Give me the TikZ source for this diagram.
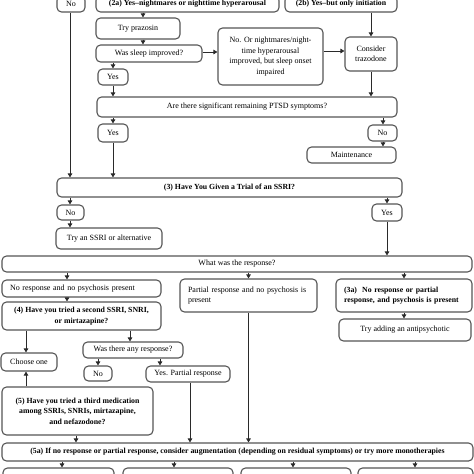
\documentclass[tikz,border=0pt]{standalone}
\usepackage{fontspec}
\setmainfont{Liberation Serif}
\usetikzlibrary{arrows.meta}
\definecolor{boxline}{HTML}{555555}
\definecolor{conn}{HTML}{2A2A2A}
\begin{document}
\begin{tikzpicture}[x=1pt,y=-1pt,
  box/.style={draw=boxline, line width=1.1pt, rounded corners=4.5pt, inner sep=0pt, align=center, font=\fontsize{8}{10.5}\selectfont},
  bbox/.style={box, font=\fontsize{7.8}{10.5}\selectfont\bfseries},
  lbox/.style={inner xsep=8pt, align=left},
  sz/.style 2 args={minimum width=#1pt, minimum height=#2pt},
  arr/.style={draw=conn, line width=0.9pt, -{Triangle[length=4pt,width=4.5pt]}},
]
\useasboundingbox (0,0) rectangle (474,474);
\clip (0,0) rectangle (474,474);
% helper x positions
\foreach \xx in {26,62,67,70,76,130,143,160,174,190,293,383,415}{\coordinate (c\xx) at (\xx,0);}
\coordinate (y51) at (0,51);
\coordinate (y52) at (0,52);
% nodes
\node[box, sz={28}{16}] (noTop) at (71,4) {No};
\node[bbox, sz={183}{16}] (b2a) at (187.5,4) {(2a) Yes--nightmares or nighttime hyperarousal};
\node[bbox, sz={112}{16}] (b2b) at (341,4) {(2b) Yes--but only initiation};
\node[box, sz={84}{21}] (prazosin) at (138,28.5) {Try prazosin};
\node[box, sz={106}{17}] (sleep) at (149,53.5) {Was sleep improved?};
\node[box, sz={105}{57}] (noOr) at (270.5,56.5) {No. Or nightmares/night-\\time hyperarousal\\improved, but sleep onset\\impaired};
\node[box, sz={52}{34}] (trazodone) at (371,54) {Consider\\trazodone};
\node[box, sz={30}{16}] (yes1) at (113,77) {Yes};
\node[box, sz={300}{20}] (remain) at (247,107) {Are there significant remaining PTSD symptoms?};
\node[box, sz={30}{18}] (yes2) at (113,133) {Yes};
\node[box, sz={29}{16}] (no2) at (382.5,133) {No};
\node[box, sz={89}{16}] (maint) at (351.5,155) {Maintenance};
\node[bbox, sz={345}{19}] (b3) at (229.5,187.5) {(3) Have You Given a Trial of an SSRI?};
\node[box, sz={27}{15}] (no3) at (70.5,212.5) {No};
\node[box, sz={30}{17}] (yes3) at (387,212.5) {Yes};
\node[box, sz={106}{21}] (ssri) at (109,238.5) {Try an SSRI or alternative};
\node[box, sz={470}{16}] (what) at (237,264) {What was the response?};
\node[box, lbox, text width=143pt, sz={159}{17}] (noresp) at (81.5,288.5) {No response and no psychosis present};
\node[box, lbox, text width=121pt, sz={137}{33}] (partial) at (248.5,295.5) {Partial response and no psychosis is\\present};
\node[bbox, lbox, text width=120pt, sz={136}{33}] (b3a) at (404,295.5) {(3a)\ \ No response or partial\\response, and psychosis is present};
\node[box, sz={132}{22}] (antipsy) at (405,330) {Try adding an antipsychotic};
\node[bbox, sz={159}{28}] (b4) at (81.5,316) {(4) Have you tried a second SSRI, SNRI,\\or mirtazapine?};
\node[box, sz={100}{16}] (anyresp) at (133,350) {Was there any response?};
\node[box, sz={56}{18}] (choose) at (29,362) {Choose one};
\node[box, sz={28}{15}] (no5) at (98,373.5) {No};
\node[box, sz={84}{16}] (yespart) at (188,374) {Yes. Partial response};
\node[bbox, sz={151}{48}] (b5) at (77.5,411) {(5) Have you tried a third medication\\among SSRIs, SNRIs, mirtazapine,\\and nefazodone?};
\node[bbox, sz={471}{18}] (b5a) at (237.5,452) {(5a) If no response or partial response, consider augmentation (depending on residual symptoms) or try more monotherapies};
\node[box, sz={111}{24}] (bt1) at (58.5,480) {};
\node[box, sz={110}{24}] (bt2) at (178,480) {};
\node[box, sz={110}{24}] (bt3) at (296,480) {};
\node[box, sz={115}{24}] (bt4) at (415.5,480) {};
% connectors
\draw[arr] (noTop.south -| c70) -- (b3.north -| c70);
\draw[arr] (b2a.south -| c143) -- (prazosin.north -| c143);
\draw[arr] (prazosin.south -| c143) -- (sleep.north -| c143);
\draw[arr] (sleep.east |- y52) -- (noOr.west |- y52);
\draw[arr] (noOr.east |- y51) -- (trazodone.west |- y51);
\draw[arr] (b2b.south -| trazodone.north) -- (trazodone.north);
\draw[arr] (trazodone.south) -- (remain.north -| trazodone.south);
\draw[arr] (sleep.south -| yes1.north) -- (yes1.north);
\draw[arr] (yes1.south) -- (remain.north -| yes1.south);
\draw[arr] (remain.south -| yes2.north) -- (yes2.north);
\draw[arr] (remain.south -| c383) -- (no2.north -| c383);
\draw[arr] (no2.south -| c383) -- (maint.north -| c383);
\draw[arr] (yes2.south) -- (b3.north -| yes2.south);
\draw[arr] (b3.south -| c70) -- (no3.north -| c70);
\draw[arr] (b3.south -| yes3.north) -- (yes3.north);
\draw[arr] (no3.south -| c70) -- (ssri.north -| c70);
\draw[arr] (yes3.south) -- (what.north -| yes3.south);
\draw[arr] (what.south -| c67) -- (noresp.north -| c67);
\draw[arr] (what.south -| partial.north) -- (partial.north);
\draw[arr] (what.south -| b3a.north) -- (b3a.north);
\draw[arr] (noresp.south -| c67) -- (b4.north -| c67);
\draw[arr] (b3a.south) -- (antipsy.north -| b3a.south);
\draw[arr] (partial.south) -- (b5a.north -| partial.south);
\draw[arr] (b4.south -| c130) -- (anyresp.north -| c130);
\draw[arr] (b4.south -| c26) -- (choose.north -| c26);
\draw[arr] (b5.north -| c26) -- (choose.south -| c26);
\draw[arr] (anyresp.south -| no5.north) -- (no5.north);
\draw[arr] (anyresp.south -| c160) -- (yespart.north -| c160);
\draw[arr] (yespart.south -| c190) -- (b5a.north -| c190);
\draw[arr] (b5.south -| c76) -- (b5a.north -| c76);
\draw[arr] (b5a.south -| c62) -- (bt1.north -| c62);
\draw[arr] (b5a.south -| c174) -- (bt2.north -| c174);
\draw[arr] (b5a.south -| c293) -- (bt3.north -| c293);
\draw[arr] (b5a.south -| c415) -- (bt4.north -| c415);
\end{tikzpicture}
\end{document}
